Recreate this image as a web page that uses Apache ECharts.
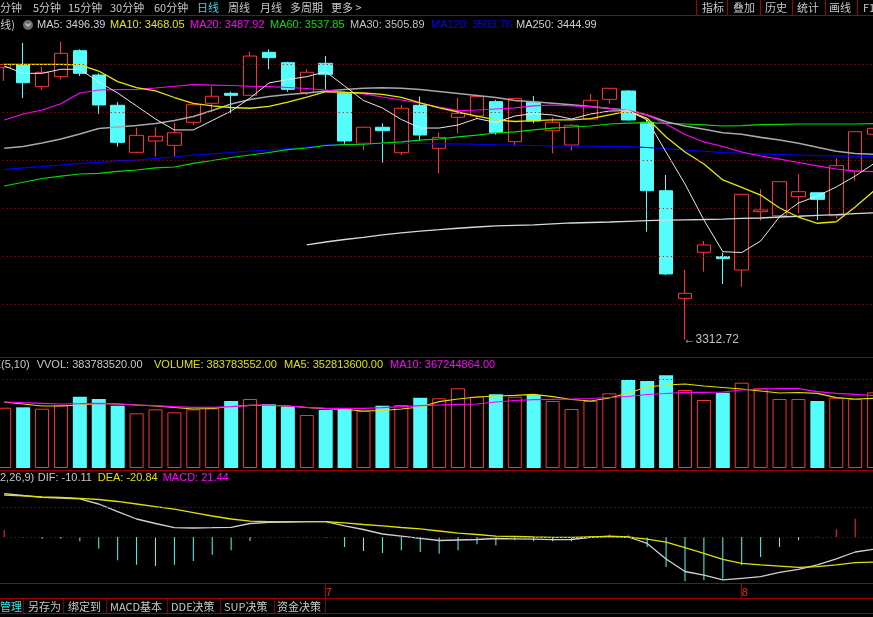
<!DOCTYPE html>
<html><head><meta charset="utf-8">
<script src="https://cdn.jsdelivr.net/npm/echarts@6/dist/echarts.min.js"></script>
<style>html,body{margin:0;padding:0;background:#000;overflow:hidden}#c{width:873px;height:617px}</style>
</head><body><div id="c"></div>
<script>
// ---------------- DATA ----------------
const dates = ['06-07','06-08','06-09','06-10','06-11','06-15','06-16','06-17','06-18','06-21','06-22','06-23','06-24','06-25','06-28','06-29','06-30',
'07-01','07-02','07-05','07-06','07-07','07-08','07-09','07-12','07-13','07-14','07-15','07-16','07-19','07-20','07-21','07-22','07-23','07-26','07-27','07-28','07-29','07-30',
'08-02','08-03','08-04','08-05','08-06','08-09','08-10','08-11'];
const openP  = [3596.5,3599.0,3576.4,3586.8,3613.9,3588.5,3557.0,3508.0,3519.8,3515.3,3539.3,3559.1,3569.5,3567.4,3612.2,3601.4,3570.1,3600.7,3569.5,3517.4,3534.1,3507.6,3557.0,3512.2,3544.5,3545.8,3560.8,3519.1,3560.1,3530.5,3515.6,3542.7,3563.2,3571.9,3539.3,3468.0,3355.9,3403.9,3399.3,3385.4,3446.2,3442.0,3461.8,3465.9,3442.0,3488.5,3526.8];
const closeP = [3599.5,3580.5,3591.4,3611.1,3590.3,3557.3,3518.4,3525.7,3524.7,3528.4,3557.6,3566.4,3567.4,3608.3,3606.6,3573.6,3591.4,3589.3,3519.8,3534.1,3530.5,3553.9,3526.0,3523.3,3548.6,3566.0,3528.8,3564.2,3540.6,3539.3,3536.1,3562.2,3574.7,3541.7,3468.0,3381.3,3361.1,3411.5,3397.2,3464.3,3448.0,3477.4,3467.0,3459.0,3494.1,3529.5,3533.0];
const lowP   = [3582.5,3564.6,3572.9,3584.0,3587.5,3547.9,3513.9,3507.0,3503.4,3503.4,3536.5,3550.3,3548.6,3567.0,3594.5,3571.1,3567.7,3573.6,3515.6,3510.4,3497.2,3505.2,3520.8,3486.1,3527.8,3542.7,3526.4,3514.6,3538.2,3507.0,3509.7,3541.7,3559.0,3541.0,3425.3,3380.2,3312.72,3383.6,3370.8,3368.0,3436.8,3441.0,3444.5,3437.5,3439.3,3478.4,3520.0];
const highP  = [3600.5,3621.9,3597.2,3623.2,3615.3,3590.3,3560.4,3533.6,3534.0,3538.9,3558.0,3576.4,3571.1,3612.8,3615.3,3602.4,3594.5,3608.3,3571.1,3534.6,3538.2,3557.3,3566.0,3528.4,3564.9,3566.5,3562.5,3564.6,3566.7,3544.5,3537.5,3568.8,3575.0,3572.9,3541.7,3484.4,3385.4,3415.6,3403.5,3464.5,3469.5,3478.0,3485.4,3466.0,3501.8,3530.0,3536.0];

const ma5   = [3597.9,3590.3,3590.3,3594.5,3594.5,3581.3,3569.8,3556.3,3542.7,3531.3,3531.3,3541.1,3551.0,3564.6,3580.2,3583.9,3586.8,3592.0,3577.1,3562.0,3554.2,3542.2,3533.3,3533.3,3536.5,3543.2,3539.1,3545.8,3548.4,3546.9,3542.7,3547.9,3551.0,3551.4,3541.7,3508.3,3475.0,3437.5,3404.5,3403.6,3415.6,3440.9,3455.2,3462.5,3471.9,3483.3,3496.39];
const ma10  = [3599.7,3599.7,3599.7,3599.7,3599.0,3592.7,3581.6,3575.3,3571.9,3565.1,3558.9,3556.3,3554.7,3553.9,3555.9,3560.4,3565.6,3571.1,3570.5,3569.8,3568.4,3565.3,3559.4,3554.2,3550.0,3545.8,3541.7,3540.1,3541.1,3541.7,3541.7,3543.2,3546.9,3551.0,3543.4,3524.0,3508.3,3495.8,3479.2,3471.4,3463.5,3450.0,3440.6,3434.1,3435.7,3451.0,3468.05];
const ma20  = [3541.7,3547.9,3552.1,3558.6,3569.8,3572.9,3573.3,3573.6,3575.0,3576.8,3578.6,3578.1,3577.6,3576.8,3576.4,3575.5,3574.5,3572.9,3570.8,3568.8,3565.6,3562.5,3559.1,3555.2,3551.4,3552.1,3553.1,3554.2,3556.3,3557.3,3556.3,3555.5,3553.9,3551.0,3546.9,3537.5,3526.6,3518.8,3514.1,3508.3,3504.2,3501.0,3497.4,3493.8,3490.6,3488.5,3487.92];
const ma30  = [3512.2,3514.1,3517.7,3521.9,3527.1,3532.8,3534.4,3535.9,3538.0,3541.1,3545.3,3551.6,3558.3,3563.0,3566.1,3568.2,3569.8,3571.9,3573.4,3574.7,3575.3,3574.7,3573.4,3571.4,3569.3,3567.2,3565.1,3562.0,3560.6,3559.1,3557.5,3555.7,3553.6,3552.1,3546.9,3539.9,3535.4,3532.0,3528.4,3526.8,3523.6,3520.8,3517.4,3513.2,3509.1,3506.8,3505.89];
const ma60  = [3472.9,3476.8,3480.7,3483.3,3485.4,3486.1,3488.2,3489.6,3491.7,3492.7,3496.4,3499.5,3502.6,3505.2,3507.8,3510.9,3512.5,3515.1,3516.1,3516.4,3517.7,3518.8,3520.8,3521.9,3524.0,3526.0,3528.1,3529.2,3531.3,3533.3,3534.4,3535.4,3537.5,3538.5,3538.9,3538.2,3537.5,3536.5,3535.4,3535.9,3536.8,3537.2,3537.5,3537.5,3537.5,3537.5,3537.85];
const ma120 = [3489.9,3491.7,3493.0,3494.8,3496.4,3497.6,3499.0,3500.0,3501.6,3503.1,3505.2,3506.3,3507.8,3509.4,3510.4,3512.0,3513.5,3515.6,3516.4,3516.7,3517.2,3517.4,3517.2,3516.9,3516.7,3516.4,3515.9,3515.6,3515.1,3514.6,3514.3,3514.3,3514.1,3513.9,3513.0,3511.7,3510.4,3509.1,3507.6,3507.0,3506.3,3505.9,3505.2,3504.5,3504.2,3503.9,3503.76];
const ma250 = [null,null,null,null,null,null,null,null,null,null,null,null,null,null,null,null,
3411.5,3414.6,3417.2,3419.5,3421.9,3424.0,3426.0,3427.4,3428.9,3430.2,3431.3,3432.0,3432.5,3433.5,3434.4,3434.9,3435.4,3436.1,3436.8,3437.3,3437.7,3438.0,3438.5,3439.1,3439.6,3440.6,3441.4,3442.4,3443.2,3444.1,3444.99];

// volume in millions of shares
const volume  = [305.7,307.7,300.7,317.9,361.5,349.8,315.9,277.3,297.6,282.4,297.6,302.7,339.7,349.8,323.0,310.8,268.7,294.1,297.6,289.0,315.9,319.4,356.4,353.4,404.1,361.5,373.7,361.5,370.1,339.7,299.1,339.7,378.7,446.2,441.1,470.0,395.5,344.8,381.8,432.5,404.1,349.8,349.8,339.7,356.4,349.8,383.78];
const volMa5  = [334.6,324.5,314.3,314.3,319.4,327.0,324.5,319.4,314.3,306.7,299.1,301.6,311.8,318.0,318.0,314.3,306.7,300.6,296.5,288.9,291.4,299.1,309.3,336.3,349.8,360.0,365.0,368.6,373.7,361.5,347.3,339.7,354.9,380.3,410.7,420.8,425.9,415.7,408.1,400.5,390.4,380.3,382.8,378.7,356.4,349.8,352.81];
const volMa10 = [334.6,331.1,328.0,324.5,326.0,328.0,324.5,319.4,315.9,310.8,307.7,307.7,311.2,318.0,319.4,314.3,307.7,302.7,302.7,302.7,305.7,310.8,315.9,319.4,322.9,324.5,334.6,342.2,346.3,348.3,349.8,352.4,357.4,362.5,372.7,377.7,383.8,383.8,385.4,395.5,400.5,402.1,402.1,386.9,378.7,373.7,367.24];

const dif  = [36.2,34.6,33.1,32.5,31.7,27.5,21.1,15.0,11.25,7.75,7.5,7.75,8.1,11.25,12.25,12.5,12.75,12.75,9.2,6.25,2.5,0.8,-1.1,-2.9,-2.5,-2.1,-1.25,-1.5,-1.7,-2.25,-2.1,-0.2,0.8,0.0,-5.4,-18.3,-28.75,-31.7,-35.8,-34.4,-33.1,-29.4,-26.9,-23.3,-18.3,-12.5,-10.11];
const dea  = [35.0,34.2,33.5,32.9,32.25,31.25,29.6,27.5,25.4,23.3,20.4,17.5,15.0,13.3,12.75,12.75,12.75,12.75,11.7,10.4,9.2,7.9,6.7,5.0,3.3,2.1,0.8,0.4,0.0,-0.25,-0.25,0.0,0.25,0.0,-1.7,-4.2,-8.9,-13.6,-18.6,-21.9,-23.3,-24.2,-25.25,-24.75,-23.3,-21.4,-20.84];
const macd = [5.6,-0.5,-1.4,-1.4,-3.6,-9.7,-19.4,-23.1,-24.2,-23.1,-20.0,-14.7,-11.1,-3.3,0.3,-0.5,0.3,-0.5,-8.3,-11.7,-13.3,-11.1,-12.5,-13.9,-11.1,-6.1,-6.9,-2.8,-3.6,-3.6,-3.6,-0.8,2.2,1.9,-8.3,-25.0,-36.9,-36.1,-34.7,-23.6,-16.7,-8.3,-2.8,0.5,6.4,15.3,21.44];

// header values / grid levels / labels
const maNames = ['MA5','MA10','MA20','MA60','MA30','MA120','MA250'];
const volHeaderNames = ['VVOL','VOLUME','MA5','MA10'];
const volHeaderValues = [383783520.00, 383783552.00, 352813600.00, 367244864.00];
const macdHeaderNames = ['DIF','DEA','MACD'];
const priceGridLevels = [3350,3400,3450,3500,3550,3600];
const volGridLevels = [451];
const macdGridLevels = [25,0];
const periodTabs = ['分钟','5分钟','15分钟','30分钟','60分钟','日线','周线','月线','多周期','更多 >'];
const toolButtons = ['指标','叠加','历史','统计','画线','F10'];
const bottomTabs = ['管理','另存为','绑定到','MACD基本','DDE决策','SUP决策','资金决策'];

// ---------------- STYLE / LAYOUT ----------------
const RED='#FF3232', CYAN='#54FCFC', FRAME='#A00000', DOT='#B00000', GREY='#C8C8C8', YEL='#E0E000', MAG='#FF00FF';
const LATIN="'Liberation Sans','DejaVu Sans',sans-serif";
const CJK="'Noto Sans CJK SC','Liberation Sans',sans-serif";
const maSeries = {MA5:ma5, MA10:ma10, MA20:ma20, MA60:ma60, MA30:ma30, MA120:ma120, MA250:ma250};
const maColors = {MA5:'#E8E8E8', MA10:'#E6E600', MA20:'#FF00FF', MA60:'#00E000', MA30:'#A8A8A8', MA120:'#0000FF', MA250:'#D8D8D8'};
const maTextColors = {MA5:'#D0D0D0', MA10:'#E6E600', MA20:'#FF00FF', MA60:'#00E000', MA30:'#C0C0C0', MA120:'#0000FF', MA250:'#D0D0D0'};
const maWidth = {MA5:1, MA10:1.3, MA20:1.2, MA60:1.2, MA30:1.6, MA120:1.2, MA250:1.3};
const maLegendX = [37,110,190,270,350,431,516];

const GL=-5.25, GW=888.8;
const isUp = i => closeP[i] >= openP[i];

function txt(x,y,s,color,size,family,align){
  return {type:'text', x:x, y:y, silent:true, z:100,
    style:{text:s, fill:color, font:size+'px '+family, textAlign:align||'left', textVerticalAlign:'middle', align:align||'left', verticalAlign:'middle'}};
}
function hline(y,x1,x2,color){return {type:'line', silent:true, z:90, shape:{x1:x1,y1:y+0.5,x2:x2,y2:y+0.5}, style:{stroke:color||FRAME, lineWidth:1}};}
function vline(x,y1,y2,color){return {type:'line', silent:true, z:90, shape:{x1:x+0.5,y1:y1,x2:x+0.5,y2:y2}, style:{stroke:color||FRAME, lineWidth:1}};}

const graphics = [];
// top toolbar
const tabX = [0,33,68,110,154,197,228,260,290,331];
periodTabs.forEach((t,i)=>graphics.push(txt(tabX[i],8,t,t==='日线'?'#3CD2F5':GREY,11,CJK)));
const btnX = [702,733,765,797,829,863];
toolButtons.forEach((t,i)=>graphics.push(txt(btnX[i],8,t,GREY,11,CJK)));
[696,727,760,792,825,857].forEach(x=>graphics.push(vline(x,0,15)));
graphics.push(hline(15,0,873));
// MA legend row
graphics.push(txt(15,25,'日线)',GREY,11,CJK,'right'));
graphics.push({type:'circle', silent:true, z:100, shape:{cx:28,cy:25,r:5}, style:{fill:'#6E6E6E'}});
graphics.push({type:'polyline', silent:true, z:101, shape:{points:[[25.5,23.5],[28,26],[30.5,23.5]]}, style:{stroke:'#D0D0D0', lineWidth:1.2, fill:null}});
maNames.forEach((n,i)=>{
  const arr = maSeries[n];
  graphics.push(txt(maLegendX[i],25,n+': '+arr[arr.length-1].toFixed(2),maTextColors[n],11,LATIN));
});
// pane separators
[357,470,583,598,613].forEach(y=>graphics.push(hline(y,0,873)));
// volume header
const volHX = [36.7,154,284,390];
const volHC = [GREY,YEL,YEL,MAG];
graphics.push(txt(-6.3,364.5,'X(5,10)',GREY,11,LATIN));
volHeaderNames.forEach((n,i)=>graphics.push(txt(volHX[i],364.5,n+': '+volHeaderValues[i].toFixed(2),volHC[i],11,LATIN)));
// macd header
const macdLast = [dif[dif.length-1], dea[dea.length-1], macd[macd.length-1]];
const macdHX = [37.7,97.7,162.7];
const macdHC = [GREY,YEL,MAG];
graphics.push(txt(0,478,'2,26,9)',GREY,11,LATIN));
macdHeaderNames.forEach((n,i)=>graphics.push(txt(macdHX[i],478,n+': '+macdLast[i].toFixed(2),macdHC[i],11,LATIN)));
// bottom tabs
const btX = [0,28,68,110,171,224,277];
bottomTabs.forEach((t,i)=>graphics.push(txt(btX[i],606.5,t,i===0?'#3CE8E8':GREY,11,CJK)));
[23,63,106,167,220,274,325].forEach(x=>graphics.push(vline(x,598,613,'#800000')));

// ---------------- OPTION ----------------
let lowIdx = 0; lowP.forEach((v,i)=>{ if(v<lowP[lowIdx]) lowIdx=i; });
const isMonthStart = idx => idx>0 && dates[idx].slice(0,2)!==dates[idx-1].slice(0,2);
const monthStarts = dates.map((d,i)=>i).filter(isMonthStart);
const dotted = {color:DOT, type:[1,3], width:1};

const grids = [
  {left:GL, width:GW, top:30, height:326, outerBoundsMode:'none', containLabel:false},
  {left:GL, width:GW, top:360, height:108, outerBoundsMode:'none', containLabel:false},
  {left:GL, width:GW, top:483, height:100, outerBoundsMode:'none', containLabel:false},
  {left:GL, width:GW, top:583, height:15, outerBoundsMode:'none', containLabel:false}
];
const xAxes = [0,1,2,3].map(g=>({type:'category', gridIndex:g, data:dates, boundaryGap:true, show:g===2,
  axisLine:{show:false}, splitLine:{show:false}, axisTick:{show:false},
  axisLabel:{show:g===2, interval:(idx)=>isMonthStart(idx), formatter:v=>String(parseInt(v.slice(0,2),10)), color:'#E03030', fontSize:11, fontFamily:LATIN, align:'left', margin:4, padding:[0,0,0,0]}
}));
const yAxes = [
  {type:'value', gridIndex:0, min:3295.83, max:3635.42, show:false, splitLine:{show:false}},
  {type:'value', gridIndex:1, min:0, max:547.56, show:false, splitLine:{show:false}},
  {type:'value', gridIndex:2, min:-38.333, max:45, show:false, splitLine:{show:false}},
  {type:'value', gridIndex:3, min:0, max:1, show:false, splitLine:{show:false}}
];

const series = [];
series.push({type:'candlestick', name:'K', xAxisIndex:0, yAxisIndex:0, z:2, barWidth:14,
  data: dates.map((d,i)=>[openP[i],closeP[i],lowP[i],highP[i]]),
  itemStyle:{color:'rgba(0,0,0,0)', color0:CYAN, borderColor:RED, borderColor0:CYAN, borderWidth:1},
  markLine:{silent:true, symbol:['none','none'], label:{show:false}, lineStyle:dotted, data:priceGridLevels.map(v=>({yAxis:v}))},
  markPoint:{symbol:'circle', symbolSize:1, itemStyle:{color:'rgba(0,0,0,0)'},
    label:{show:true, position:'right', distance:-2, formatter:'←'+lowP[lowIdx].toFixed(2), color:'#C0C0C0', fontSize:12, fontFamily:LATIN},
    data:[{coord:[lowIdx, lowP[lowIdx]]}]}
});
['MA250','MA120','MA60','MA30','MA20','MA10','MA5'].forEach(n=>{
  series.push({type:'line', name:n, xAxisIndex:0, yAxisIndex:0, z:3, data:maSeries[n], symbol:'none', showSymbol:false, smooth:false, connectNulls:false,
    lineStyle:{color:maColors[n], width:maWidth[n]}});
});
series.push({type:'bar', name:'VOL', xAxisIndex:1, yAxisIndex:1, z:2, barWidth:14,
  data: volume.map((v,i)=>({value:v, itemStyle: isUp(i) ? {color:'rgba(0,0,0,0)', borderColor:RED, borderWidth:1} : {color:CYAN, borderColor:CYAN, borderWidth:0}})),
  markLine:{silent:true, symbol:['none','none'], label:{show:false}, lineStyle:dotted, data:volGridLevels.map(v=>({yAxis:v}))}
});
series.push({type:'line', name:'VMA5', xAxisIndex:1, yAxisIndex:1, z:3, data:volMa5, symbol:'none', lineStyle:{color:YEL, width:1.2}});
series.push({type:'line', name:'VMA10', xAxisIndex:1, yAxisIndex:1, z:3, data:volMa10, symbol:'none', lineStyle:{color:MAG, width:1.2}});
series.push({type:'bar', name:'MACD', xAxisIndex:2, yAxisIndex:2, z:2, barWidth:1,
  data: macd.map(v=>({value:v, itemStyle:{color: v>=0 ? RED : CYAN}})),
  markLine:{silent:true, symbol:['none','none'], label:{show:false}, lineStyle:dotted, data:macdGridLevels.map(v=>({yAxis:v}))}
});
series.push({type:'line', name:'DIF', xAxisIndex:2, yAxisIndex:2, z:3, data:dif, symbol:'none', lineStyle:{color:'#D0D0D0', width:1.3}});
series.push({type:'line', name:'DEA', xAxisIndex:2, yAxisIndex:2, z:3, data:dea, symbol:'none', lineStyle:{color:YEL, width:1.3}});
// month separators in the date row
series.push({type:'line', name:'months', xAxisIndex:3, yAxisIndex:3, data:dates.map(()=>null), symbol:'none', lineStyle:{width:0},
  markLine:{silent:true, symbol:['none','none'], label:{show:false}, lineStyle:{color:FRAME, type:'solid', width:1},
    data:monthStarts.map(i=>({xAxis:dates[i]}))}
});

const chart = echarts.init(document.getElementById('c'), null, {renderer:'canvas'});
chart.setOption({
  backgroundColor:'#000000',
  animation:false,
  grid:grids, xAxis:xAxes, yAxis:yAxes, series:series,
  graphic:{elements:graphics}
});
</script>
</body></html>
